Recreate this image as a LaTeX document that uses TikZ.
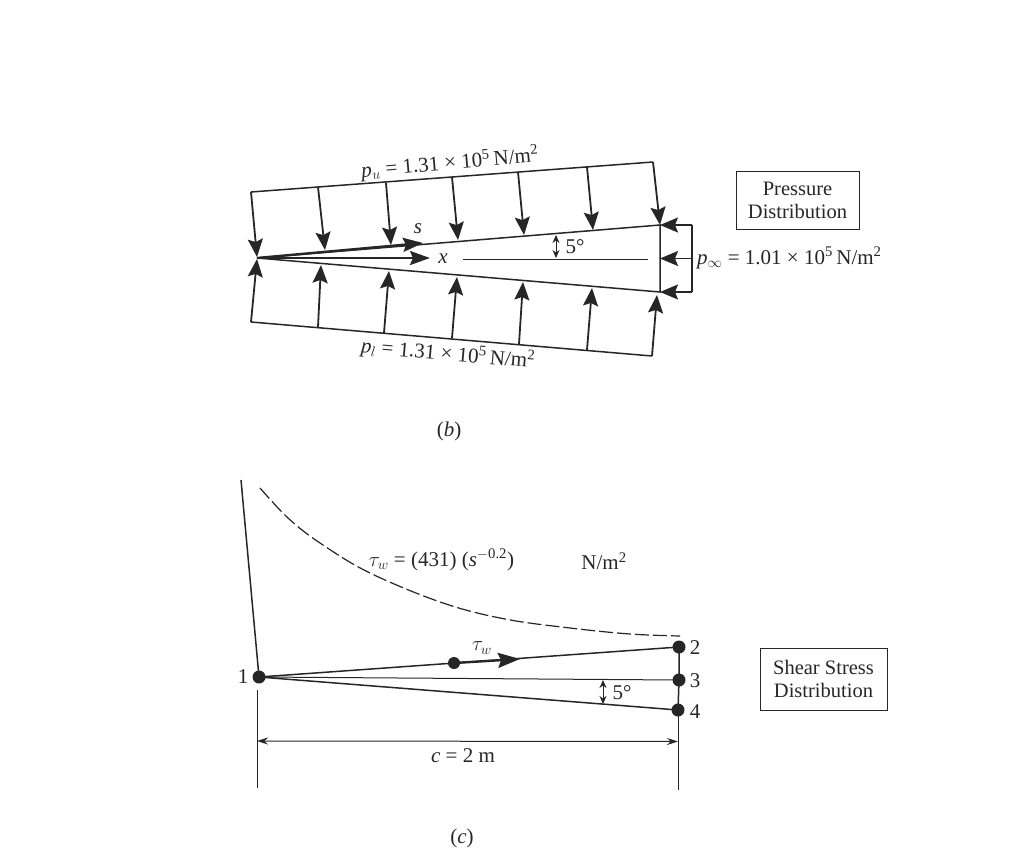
\documentclass[tikz,border=0pt]{standalone}
\usepackage{fontspec}
\setmainfont{Liberation Serif}
\usetikzlibrary{arrows.meta}
\colorlet{ink}{black!85}
\tikzset{
  x=1pt,y=-1pt,
  line/.style={draw=ink,line width=1.5pt},
  thinline/.style={draw=ink,line width=1pt},
  force/.style={draw=ink,line width=1.8pt,-{Stealth[length=18pt,width=15pt,inset=3pt]}},
  heavy/.style={draw=ink,line width=2.4pt,-{Stealth[length=20pt,width=14pt,inset=3pt]}},
  small/.style={draw=ink,line width=1pt,{Stealth[length=8pt,width=7pt]}-{Stealth[length=8pt,width=7pt]}},
  dim/.style={draw=ink,line width=1pt,{Stealth[length=11pt,width=7pt]}-{Stealth[length=11pt,width=7pt]}},
  lab/.style={font=\fontsize{21}{24}\selectfont,text=ink,inner sep=0pt},
  tag/.style={draw=ink,line width=0.9pt,font=\fontsize{20.5}{23}\selectfont,text=ink,align=center,inner sep=0pt},
  dot/.style={circle,fill=ink,minimum size=13pt,inner sep=0pt},
}
\begin{document}
\begin{tikzpicture}
\useasboundingbox (0,0) rectangle (1024,850);
% (b) wedge
\coordinate (le) at (257,258);
\coordinate (tu) at (660,225);
\coordinate (tl) at (660,292);
\coordinate (tm) at (660,258.5);
\draw[line] (le) -- (tu) -- (tl) -- cycle;
% upper and lower pressure envelopes
\coordinate (u0) at (251,192); \coordinate (u6) at (653,162);
\coordinate (l0) at (251,322); \coordinate (l6) at (652,356);
\draw[line] (u0) -- (u6);
\draw[line] (l0) -- (l6);
\foreach \a/\b/\c/\d/\n in {251/192/257/257/0,318/187/325/250/1,386/183/391/245/2,452/177/458/240/3,518/172/524/235/4,587/167/593/230/5,653/162/660/225/6}{
  \coordinate (ua\n) at (\a,\b); \coordinate (ub\n) at (\c,\d);
  \draw[force] (ua\n) -- (ub\n);
}
\foreach \a/\b/\c/\d/\n in {251/322/257/259/0,318/327/321/265/1,384/333/389/271/2,452/338/457/277/3,519/344/523/282/4,587/350/592/288/5,652/356/657/295/6}{
  \coordinate (la\n) at (\a,\b); \coordinate (lb\n) at (\c,\d);
  \draw[force] (la\n) -- (lb\n);
}
% base pressure
\coordinate (r1) at (692,225); \coordinate (r2) at (692,258.5); \coordinate (r3) at (692,292);
\draw[line] (r1) -- (r3);
\draw[force] (r1) -- (tu);
\draw[force] (r2) -- (tm);
\draw[force] (r3) -- (tl);
% s and x axes
\coordinate (sx) at (423,243); \coordinate (xx) at (430,258);
\draw[heavy] (le) -- (sx);
\draw[heavy] (le) -- (xx);
\node[lab,font=\fontsize{21}{24}\selectfont\itshape] (s) at (418,229) {s};
\node[lab,font=\fontsize{21}{24}\selectfont\itshape] (x) at (443,259) {x};
% centre line and angle
\coordinate (c1) at (463,259); \coordinate (c2) at (648,259);
\draw[thinline] (c1) -- (c2);
\coordinate (a1) at (556,235); \coordinate (a2) at (556,258);
\draw[small] (a1) -- (a2);
\node[lab] (ang1) at (575,247) {5°};
% labels
\node[lab,rotate=5] (pu) at (450,163) {\textit{p}$_{u}$ = 1.31 × 10\textsuperscript{5}\,N/m\textsuperscript{2}};
\node[lab,rotate=-5] (pl) at (448,354) {\textit{p}$_{l}$ = 1.31 × 10\textsuperscript{5}\,N/m\textsuperscript{2}};
\node[lab,anchor=west] (pinf) at (697,258) {\textit{p}$_{\infty}$ = 1.01 × 10\textsuperscript{5}\,N/m\textsuperscript{2}};
\node[tag,minimum width=123pt,minimum height=58pt] (pd) at (797.5,200.5) {Pressure\\Distribution};
\node[lab] (b) at (449,431) {(\textit{b})};
% (c) wedge
\node[dot] (n1) at (259,677) {};
\node[dot] (n2) at (679,647) {};
\node[dot] (n3) at (679,680) {};
\node[dot] (n4) at (678,710) {};
\node[dot,minimum size=12pt] (nm) at (454,663) {};
\draw[line] (n1.center) -- (n2.center) -- (n3.center) -- (n4.center) -- (n1.center);
\draw[thinline] (n1.center) -- (n3.center);
\node[lab] (t1) at (243,677) {1};
\node[lab] (t2) at (695,648) {2};
\node[lab] (t3) at (695,681) {3};
\node[lab] (t4) at (695,712) {4};
% shear curve
\coordinate (top) at (241,480);
\draw[line] (top) -- (n1.center);
\draw[draw=ink,line width=1.2pt,dash pattern=on 14pt off 4pt] plot[smooth,tension=0.6] coordinates {(260,488) (288,518) (320,543) (370,573) (443,603) (505,619) (570,628) (630,634) (680,636)};
\node[lab] (tw) at (441.5,560) {$\tau_{w}$ = (431) (\textit{s}\textsuperscript{$-$0.2})};
\node[lab] (unit) at (604,561) {N/m\textsuperscript{2}};
% tau arrow
\coordinate (te) at (520,659);
\draw[heavy,-{Stealth[length=22pt,width=15pt,inset=3pt]}] (nm.center) -- (te);
\node[lab] (tlab) at (482,648) {$\tau_{w}$};
% dimension
\coordinate (d1t) at (257,690); \coordinate (d1b) at (257,788);
\coordinate (d2t) at (678,712); \coordinate (d2b) at (678,790);
\draw[thinline] (d1t) -- (d1b);
\draw[thinline] (d2t) -- (d2b);
\coordinate (e1) at (257,741); \coordinate (e2) at (678,741.5);
\draw[dim] (e1) -- (e2);
\node[lab] (cc) at (463,756) {\textit{c} = 2 m};
% angle
\coordinate (b1) at (603,680); \coordinate (b2) at (603,704);
\draw[small] (b1) -- (b2);
\node[lab] (ang2) at (622,693) {5°};
\node[tag,minimum width=127pt,minimum height=62pt] (sd) at (823.5,679) {Shear Stress\\Distribution};
\node[lab] (c) at (462,838) {(\textit{c})};
\end{tikzpicture}
\end{document}
